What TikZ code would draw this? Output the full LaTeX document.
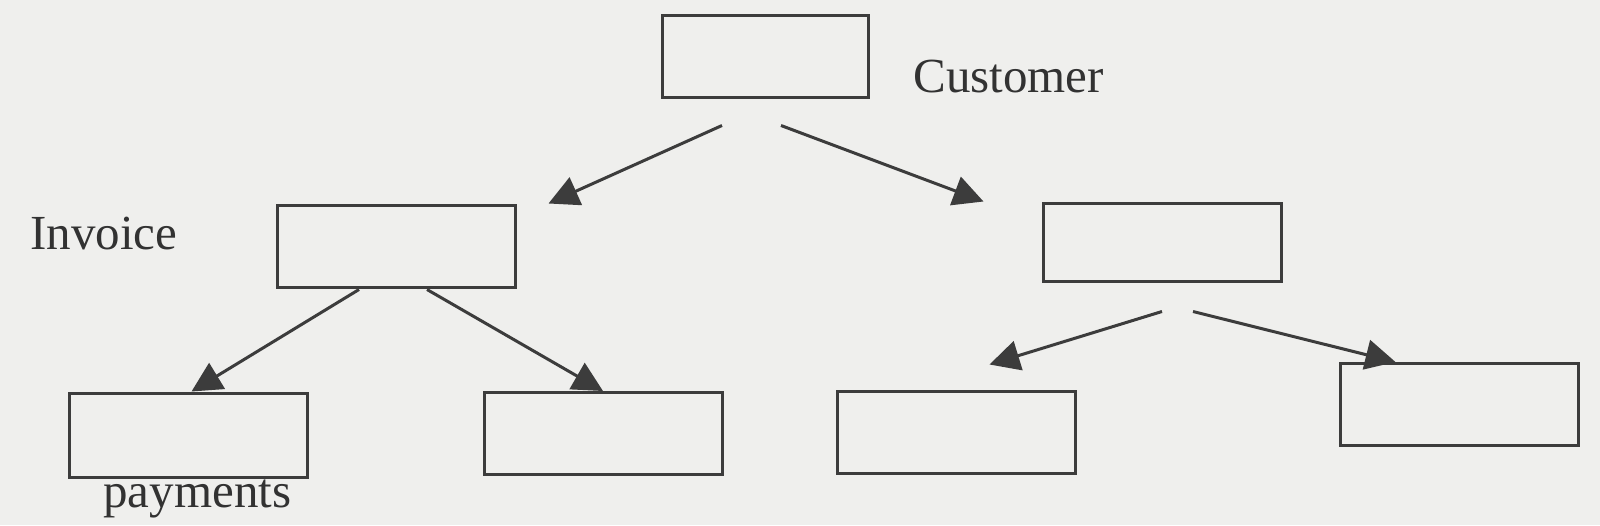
\documentclass[tikz,border=0pt]{standalone}
\usepackage{fontspec}
\setmainfont{Liberation Serif}
\usetikzlibrary{arrows.meta,calc}
\definecolor{paper}{RGB}{239,239,237}
\definecolor{ink}{RGB}{60,60,60}
\definecolor{txt}{RGB}{50,50,50}
\tikzset{
  box/.style={draw=ink, line width=1.5pt, inner sep=0pt, minimum width=119pt, minimum height=41pt},
  arr/.style={draw=ink, line width=1.5pt, -{Triangle[length=15pt,width=15pt]}},
  lbl/.style={text=txt, inner sep=0pt, anchor=base west, font=\fontsize{24.5pt}{28pt}\selectfont}
}
\begin{document}
\begin{tikzpicture}[x=0.5pt,y=-0.5pt]
\fill[paper] (0,0) rectangle (1600,525);
\useasboundingbox (0,0) rectangle (1600,525);
% boxes
\node[box, minimum width=103pt] (cust) at (765,56) {};
\node[box] (inv) at (396,246) {};
\node[box, minimum height=39pt] (rbox) at (1162,242) {};
\node[box, minimum height=42pt] (b1) at (188.5,435) {};
\node[box] (b2) at (603,433.5) {};
\node[box] (b3) at (956.5,432) {};
\node[box] (b4) at (1459,404.5) {};
% labels
\node[lbl] (lcust) at (913,92) {Customer};
\node[lbl] (linv) at (30,249) {Invoice};
\node[lbl] (lpay) at (103,507) {payments};
% connectors
\draw[arr] ($(cust.south)+(-43,27)$) -- ($(inv.north east)+(32,0)$);
\draw[arr] ($(cust.south)+(16,27)$) -- ($(rbox.north west)+(-58,0)$);
\draw[arr] ($(inv.south)+(-37,1)$) -- ($(b1.north)+(3,0)$);
\draw[arr] ($(inv.south)+(31,1)$) -- (b2.north);
\draw[arr] ($(rbox.south)+(0,29)$) -- ($(b3.north)+(33,-25)$);
\draw[arr] ($(rbox.south)+(31,29)$) -- ($(b4.north west)+(57,0)$);
\end{tikzpicture}
\end{document}
